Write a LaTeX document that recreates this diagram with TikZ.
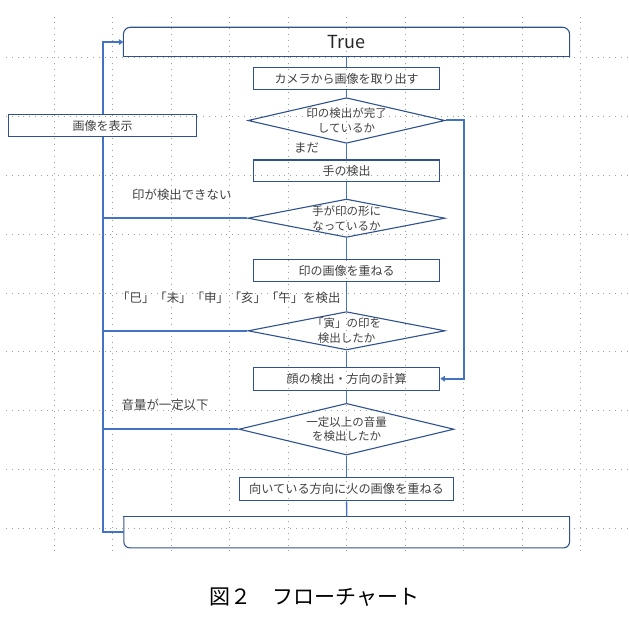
\documentclass[tikz,border=0pt]{standalone}
\usepackage{fontspec}
\setmainfont{Noto Sans CJK JP}
\usetikzlibrary{positioning,
        shapes.geometric,
        arrows.meta}
\definecolor{lineblue}{HTML}{4472C4}
\definecolor{boxblue}{HTML}{2F528F}
\definecolor{txtgray}{HTML}{404040}
\definecolor{gridgray}{HTML}{A0A0A0}

\begin{document}
\begin{tikzpicture}[x=1pt,y=-1pt,
        procbox/.style={rectangle,draw=boxblue,line width=1.1pt,minimum width=186.5pt,minimum height=22.3pt,inner sep=0pt,text=txtgray,font=\fontsize{12}{14}\selectfont},
        decision/.style={diamond,draw=boxblue,line width=1.1pt,aspect=4,inner sep=-6pt,minimum width=197pt,text=txtgray,align=center,font=\fontsize{11.5}{14.5}\selectfont},
        boxline/.style={draw=boxblue,line width=1.1pt},
        flowline/.style={draw=lineblue,line width=1.3pt},
        backline/.style={draw=lineblue,line width=2pt},
        notetext/.style={inner sep=0pt,anchor=west,text=txtgray,font=\fontsize{12.4}{14}\selectfont},
        gridline/.style={gridgray,line width=0.7pt,dash pattern=on 0.8pt off 5pt}]
            \useasboundingbox (0,0) rectangle (629,623);

            % grid
            \foreach \gy in {0,...,8}
                \draw [gridline] (6,{57.7+58.8*\gy}) -- (629,{57.7+58.8*\gy});
            \foreach \gx in {0,...,9}
                \draw [gridline] ({54.2+58.5*\gx},16.7) -- ({54.2+58.5*\gx},556);

            \node [minimum width=445.8pt,minimum height=29.2pt,inner sep=0pt,text=black!85,font=\fontsize{18}{20}\selectfont] (truebox) at (346.5,42.1) {True};
            \node [procbox] (cam) at (346.5,78.8) {カメラから画像を取り出す};
            \node [decision,minimum height=45.6pt] (d1) at (346.5,120.5) {印の検出が完了\\しているか};
            \node [procbox,minimum width=188pt,minimum height=21.7pt] (disp) at (102.5,125.8) {画像を表示};
            \node [procbox,minimum height=21.7pt] (hand) at (346.5,170.8) {手の検出};
            \node [decision,minimum height=38.3pt] (d2) at (346.5,218.2) {手が印の形に\\なっているか};
            \node [procbox,minimum height=22.4pt] (mark) at (346.5,270.5) {印の画像を重ねる};
            \node [decision,minimum height=38.3pt] (d3) at (346.5,330.8) {「寅」の印を\\検出したか};
            \node [procbox,minimum height=22.7pt] (face) at (346.5,378.7) {顔の検出・方向の計算};
            \node [decision,minimum width=215pt,minimum height=51.7pt] (d4) at (346.5,429.2) {一定以上の音量\\を検出したか};
            \node [procbox,minimum width=213.8pt,minimum height=23pt,font=\fontsize{12.2}{14}\selectfont] (fire) at (346.5,489.2) {向いている方向に火の画像を重ねる};
            \node [minimum width=445.3pt,minimum height=31pt,inner sep=0pt] (endbox) at (346.7,532.2) {};

            \node [notetext] (mada) at (294,148) {まだ};
            \node [notetext] (nosign) at (132,195) {印が検出できない};
            \node [notetext] (others) at (117,297.7) {「巳」「未」「申」「亥」「午」を検出};
            \node [notetext] (lowvol) at (121.5,404.3) {音量が一定以下};

            \node [font=\fontsize{21}{24}\selectfont] (caption) at (314.5,597) {図２　フローチャート};

            \coordinate (rturn) at (463.7,120.5);

            % loop boxes: rounded on one side only
            \draw [boxline,rounded corners=7pt] (truebox.south west) -- (truebox.north west) -- (truebox.north east) -- (truebox.south east);
            \draw [boxline,line cap=rect] (truebox.south west) -- (truebox.south east);
            \draw [boxline,rounded corners=6pt] (endbox.north east) -- (endbox.south east) -- (endbox.south west) -- (endbox.north west);
            \draw [boxline,line cap=rect] (endbox.north west) -- (endbox.north east);

            \draw [flowline] (truebox.south) -- (cam.north);
            \draw [flowline] (cam) -- (d1);
            \draw [flowline] (d1) -- (hand);
            \draw [flowline] (hand) -- (d2);
            \draw [flowline] (d2) -- (mark);
            \draw [flowline] (mark) -- (d3);
            \draw [flowline] (d3) -- (face);
            \draw [flowline] (face) -- (d4);
            \draw [flowline] (d4) -- (fire);
            \draw [flowline] (fire) -- (endbox.north);

            \draw [backline,-{Triangle[length=4.5pt,width=5.5pt]}] (d1.east) -- (rturn) |- (face.east);
            \draw [backline] (endbox.west) -| (disp.south);
            \draw [backline,-{Triangle[length=4.5pt,width=5.5pt]}] (disp.north) |- (truebox.west);
            \draw [backline] (d2.west) -- (d2.west -| disp.south);
            \draw [backline] (d3.west) -- (d3.west -| disp.south);
            \draw [backline] (d4.west) -- (d4.west -| disp.south);
        \end{tikzpicture}
\end{document}
